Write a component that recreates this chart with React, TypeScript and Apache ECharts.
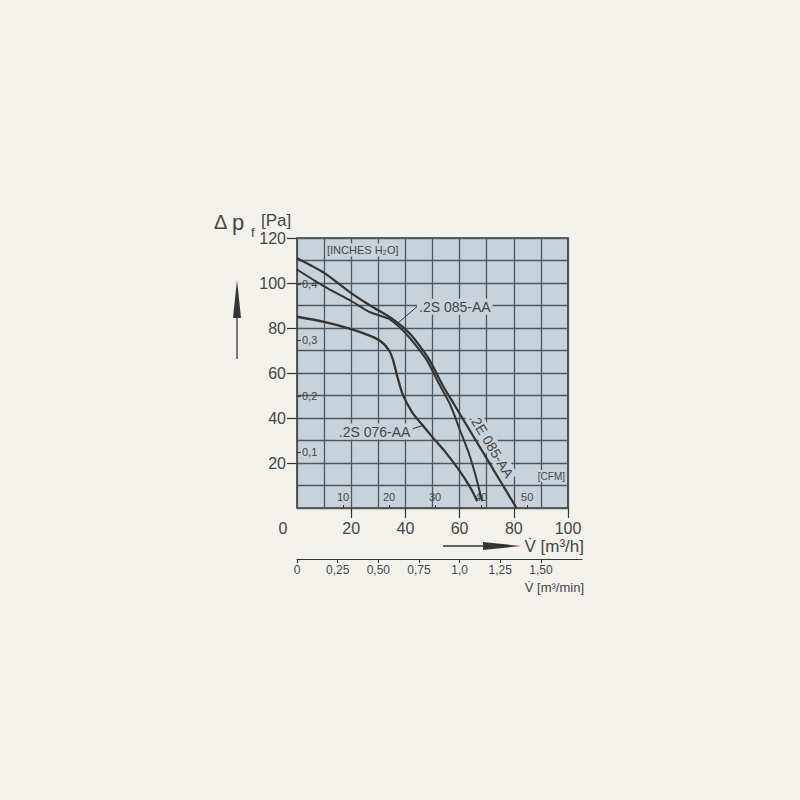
import React, { useEffect, useRef } from "react";
import * as echarts from "echarts";

// Curves: flow V [m³/h] and static pressure Δp_f [Pa]
const flow2E085 = [0, 10, 20, 27, 34, 39, 42, 45, 49, 54, 58, 63, 68, 74.5, 81];
const dp2E085 = [111, 104.5, 95.5, 90, 85, 80.5, 77, 72.5, 65.5, 54, 46, 36, 26, 13, 0];
const flow2S085 = [0, 10, 20, 27, 34, 39, 42, 45, 48, 52.5, 56.5, 60, 63.5, 66, 68.3];
const dp2S085 = [106, 98.5, 92, 87, 84, 79, 75, 70.5, 65.5, 55, 46, 35, 24, 14, 3];
const flow2S076 = [0, 10, 20, 27, 31, 34, 35.5, 37, 39, 42.5, 45.5, 50, 55, 60, 64, 66.5];
const dp2S076 = [85, 82.7, 79.5, 76.5, 74, 70, 65.5, 58.5, 50.5, 42.5, 38, 31.5, 24.5, 16.5, 9, 3];

// Axis ticks / labels
const paTicks = [20, 40, 60, 80, 100, 120];
const m3hTicks = [20, 40, 60, 80, 100];
const m3hLabels = [0, 20, 40, 60, 80, 100];
const inchTicks = [0.1, 0.2, 0.3, 0.4];
const cfmTicks = [10, 20, 30, 40, 50];
const m3minTicks = [0, 0.25, 0.5, 0.75, 1.0, 1.25, 1.5];

const PA_PER_INCH = 249.089;
const M3H_PER_CFM = 1.699;

const INK = "#343434";
const TXT = "#454545";
const GRIDC = "#53575b";
const PLOT = "#c8d2da";
const PAGE = "#f3f1ec";
const FONT = "Liberation Sans, DejaVu Sans, sans-serif";

const zip = (xs: number[], ys: number[]) => xs.map((x, i) => [x, ys[i]]);

export default function App() {
  const ref = useRef<HTMLDivElement>(null);
  useEffect(() => {
    if (!ref.current) return;
    const chart = echarts.init(ref.current, undefined, { renderer: "svg" });
    const curveStyle = (w: number) => ({ color: INK, width: w });
    const labelBox = { backgroundColor: PLOT, padding: [1, 2, 1, 2] };
    const gridOnly = {
      axisLine: { show: false }, axisTick: { show: false }, axisLabel: { show: false },
      splitLine: { show: true, lineStyle: { color: GRIDC, width: 1.3 } },
    };
    chart.setOption({
      animation: false,
      backgroundColor: PAGE,
      grid: [
        { left: 297, top: 238, width: 271, height: 270, show: true, backgroundColor: PLOT, borderColor: INK, borderWidth: 1.6, z: 0 },
        { left: 297, top: 559, width: 285, height: 10, show: false },
      ],
      xAxis: [
        {
          gridIndex: 0, type: "value", min: 0, max: 100, interval: 20, position: "bottom",
          axisLine: { show: false }, splitLine: { show: false },
          axisTick: { show: true, length: 10, customValues: m3hTicks, lineStyle: { color: INK, width: 1.2 } },
          axisLabel: {
            show: true, customValues: m3hLabels, margin: 12, fontSize: 16, color: TXT, fontFamily: FONT,
            formatter: (v: number) => (v === 0 ? "{z|0}" : String(v)),
            rich: { z: { padding: [0, 28, 0, 0], fontSize: 16, color: TXT, fontFamily: FONT } },
          },
        },
        {
          gridIndex: 0, type: "value", min: 0, max: 100 / M3H_PER_CFM, interval: 10, position: "bottom",
          axisLine: { show: false }, splitLine: { show: false },
          axisTick: { show: true, inside: true, length: 3, customValues: cfmTicks, lineStyle: { color: INK } },
          axisLabel: { show: true, inside: true, customValues: cfmTicks, margin: 6, fontSize: 11, color: TXT, fontFamily: FONT },
        },
        {
          gridIndex: 1, type: "value", min: 0, max: 285 / (271 / 100) / 60, interval: 0.25, position: "top",
          axisLine: { show: true, onZero: false, lineStyle: { color: INK, width: 1.2 } }, splitLine: { show: false },
          axisTick: { show: true, inside: true, length: 4, customValues: m3minTicks, lineStyle: { color: INK } },
          axisLabel: {
            show: true, inside: true, customValues: m3minTicks, margin: 5, fontSize: 12, color: TXT, fontFamily: FONT,
            formatter: (v: number) => (v === 0 ? "0" : v === 1 ? "1,0" : v.toFixed(2).replace(".", ",")),
          },
        },
        { gridIndex: 0, type: "value", min: 0, max: 100, interval: 10, position: "bottom", ...gridOnly },
      ],
      yAxis: [
        {
          gridIndex: 0, type: "value", min: 0, max: 120, interval: 20, position: "left",
          axisLine: { show: false }, splitLine: { show: false },
          axisTick: { show: true, length: 10, customValues: paTicks, lineStyle: { color: INK, width: 1.2 } },
          axisLabel: { show: true, customValues: paTicks, margin: 11, fontSize: 16, color: TXT, fontFamily: FONT },
        },
        {
          gridIndex: 0, type: "value", min: 0, max: 120 / PA_PER_INCH, interval: 0.1, position: "left",
          axisLine: { show: false }, splitLine: { show: false },
          axisTick: { show: true, inside: true, length: 4, customValues: inchTicks, lineStyle: { color: INK } },
          axisLabel: {
            show: true, inside: true, customValues: inchTicks, margin: 5, fontSize: 11, color: TXT, fontFamily: FONT,
            formatter: (v: number) => v.toFixed(1).replace(".", ","),
          },
        },
        { gridIndex: 1, type: "value", min: 0, max: 1, show: false },
        { gridIndex: 0, type: "value", min: 0, max: 120, interval: 10, position: "left", ...gridOnly },
      ],
      series: [
        {
          name: "2E 085-AA", type: "line", xAxisIndex: 0, yAxisIndex: 0, data: zip(flow2E085, dp2E085),
          showSymbol: false, smooth: 0.25, lineStyle: curveStyle(2.3), z: 5,
          markPoint: {
            symbol: "circle", symbolSize: 0, silent: true,
            data: [{
              coord: [71.8, 27.5],
              label: { show: true, position: "inside", rotate: -59, formatter: ".2E 085-AA", fontSize: 14, color: TXT, fontFamily: FONT, ...labelBox },
            }],
          },
        },
        {
          name: "2S 085-AA", type: "line", xAxisIndex: 0, yAxisIndex: 0, data: zip(flow2S085, dp2S085),
          showSymbol: false, smooth: 0.25, lineStyle: curveStyle(2), z: 5,
          markLine: {
            symbol: ["none", "none"], silent: true, label: { show: false },
            lineStyle: { color: INK, width: 1, type: "solid" },
            data: [[{ coord: [37.5, 82.5] }, { coord: [44.3, 89.5] }]],
          },
          markPoint: {
            symbol: "circle", symbolSize: 0, silent: true,
            data: [{
              coord: [44.3, 89.5],
              label: { show: true, position: "right", distance: 0, formatter: ".2S 085-AA", fontSize: 14, color: TXT, fontFamily: FONT, ...labelBox },
            }],
          },
        },
        {
          name: "2S 076-AA", type: "line", xAxisIndex: 0, yAxisIndex: 0, data: zip(flow2S076, dp2S076),
          showSymbol: false, smooth: 0.25, lineStyle: curveStyle(2.3), z: 5,
          markLine: {
            symbol: ["none", "none"], silent: true, label: { show: false },
            lineStyle: { color: INK, width: 1, type: "solid" },
            data: [[{ coord: [42.6, 35.2] }, { coord: [46.8, 36.8] }]],
          },
          markPoint: {
            symbol: "circle", symbolSize: 0, silent: true,
            data: [{
              coord: [42.6, 34],
              label: { show: true, position: "left", distance: 0, formatter: ".2S 076-AA", fontSize: 14, color: TXT, fontFamily: FONT, ...labelBox },
            }],
          },
        },
      ],
      graphic: [
        // y-axis title Δp_f [Pa]
        { type: "text", x: 214, y: 222, style: { text: "Δ", fontSize: 20, fill: TXT, fontFamily: FONT, verticalAlign: "middle" } },
        { type: "text", x: 232, y: 222, style: { text: "p", fontSize: 22, fill: TXT, fontFamily: FONT, verticalAlign: "middle" } },
        { type: "text", x: 251, y: 232, style: { text: "f", fontSize: 13, fill: TXT, fontFamily: FONT, verticalAlign: "middle" } },
        { type: "text", x: 261, y: 220, style: { text: "[Pa]", fontSize: 17, fill: TXT, fontFamily: FONT, verticalAlign: "middle" } },
        // vertical arrow
        { type: "line", shape: { x1: 237, y1: 316, x2: 237, y2: 359 }, style: { stroke: INK, lineWidth: 1.3 } },
        { type: "polygon", shape: { points: [[233, 318], [241, 318], [237, 280]] }, style: { fill: INK } },
        // inches H2O scale name
        { type: "text", x: 326, y: 250, z: 10, style: { text: "[INCHES H₂O]", fontSize: 11, fill: TXT, fontFamily: FONT, verticalAlign: "middle", backgroundColor: PLOT, padding: [1, 1] } },
        // CFM scale name
        { type: "text", x: 566, y: 476, z: 10, style: { text: "[CFM]", fontSize: 10, fill: TXT, fontFamily: FONT, align: "right", verticalAlign: "middle", backgroundColor: PLOT, padding: [1, 1] } },
        // horizontal arrow + V [m3/h]
        { type: "line", shape: { x1: 443, y1: 546, x2: 485, y2: 546 }, style: { stroke: INK, lineWidth: 1.3 } },
        { type: "polygon", shape: { points: [[483, 542], [483, 550], [521, 546]] }, style: { fill: INK } },
        { type: "text", x: 584, y: 546, style: { text: "V̇ [m³/h]", fontSize: 17, fill: TXT, fontFamily: FONT, align: "right", verticalAlign: "middle" } },
        { type: "text", x: 584, y: 587, style: { text: "V̇ [m³/min]", fontSize: 13, fill: TXT, fontFamily: FONT, align: "right", verticalAlign: "middle" } },
      ],
    });
    return () => chart.dispose();
  }, []);
  return <div ref={ref} style={{ position: "absolute", left: 0, top: 0, width: 800, height: 800 }} />;
}
